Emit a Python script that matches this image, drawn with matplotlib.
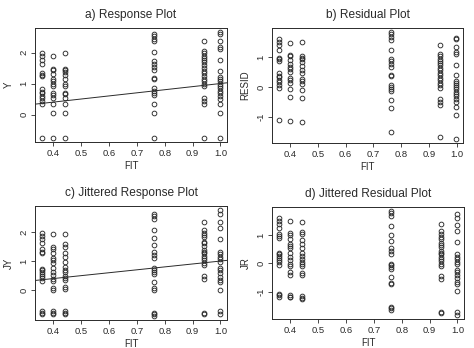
import numpy as np
import matplotlib
matplotlib.use("Agg")
import matplotlib.pyplot as plt

plt.rcParams['font.family'] = ['Liberation Sans', 'DejaVu Sans']

fits = [0.36, 0.398, 0.442, 0.762, 0.94, 0.998]

y_vals = [
    [1.97, 1.88, 1.77, 1.62, 1.34, 1.29, 1.23, 0.82, 0.74, 0.68, 0.60, 0.52, 0.43, 0.33, -0.75],
    [1.89, 1.48, 1.43, 1.30, 1.16, 1.08, 1.00, 0.91, 0.71, 0.62, 0.52, 0.33, 0.06, -0.75],
    [1.97, 1.48, 1.43, 1.37, 1.27, 1.16, 1.00, 0.91, 0.71, 0.65, 0.54, 0.33, 0.06, -0.75],
    [2.61, 2.53, 2.45, 2.36, 2.02, 1.72, 1.62, 1.54, 1.43, 1.18, 1.13, 0.84, 0.76, 0.70, 0.62, 0.33, 0.06, -0.75],
    [2.36, 2.04, 1.97, 1.89, 1.83, 1.75, 1.68, 1.59, 1.50, 1.41, 1.34, 1.25, 1.16, 1.07, 1.00, 0.91, 0.52, 0.43, 0.33, -0.75],
    [2.66, 2.61, 2.36, 2.18, 2.11, 1.75, 1.40, 1.21, 1.14, 1.07, 1.00, 0.92, 0.84, 0.76, 0.68, 0.60, 0.49, 0.33, 0.06, -0.75],
]

# jittered responses
jy_vals = [
    [1.97, 1.85, 1.75, 1.63, 1.40, 1.32, 1.27, 0.74, 0.68, 0.61, 0.57, 0.50, 0.42, 0.31, -0.71, -0.77, -0.82],
    [1.91, 1.49, 1.41, 1.27, 1.10, 1.02, 0.93, 0.76, 0.64, 0.53, 0.39, 0.31, 0.08, 0.00, -0.71, -0.77, -0.80],
    [1.91, 1.57, 1.49, 1.27, 1.13, 0.98, 0.81, 0.70, 0.61, 0.50, 0.42, 0.36, 0.12, 0.05, -0.71, -0.77, -0.82],
    [2.62, 2.53, 2.45, 2.08, 1.78, 1.55, 1.30, 1.21, 1.10, 0.76, 0.70, 0.64, 0.57, 0.27, 0.08, 0.02, -0.77, -0.82, -0.88],
    [2.34, 2.08, 1.97, 1.89, 1.81, 1.66, 1.61, 1.53, 1.38, 1.32, 1.27, 1.18, 1.10, 1.02, 0.93, 0.85, 0.50, 0.39, -0.77, -0.82],
    [2.74, 2.62, 2.34, 2.14, 1.74, 1.32, 1.23, 1.15, 1.06, 0.98, 0.76, 0.68, 0.59, 0.47, 0.36, 0.27, 0.02, -0.71, -0.82],
]

fit = np.concatenate([[f] * len(v) for f, v in zip(fits, y_vals)])
y = np.concatenate(y_vals)
resid = y - fit
jfit = np.concatenate([[f] * len(v) for f, v in zip(fits, jy_vals)])
jy = np.concatenate(jy_vals)
jr = jy - jfit

xticks = [0.4, 0.5, 0.6, 0.7, 0.8, 0.9, 1.0]
fg = '#2a2a2a'

fig = plt.figure(figsize=(4.74, 3.48), dpi=100)
boxes = [
    [0.074, 0.592, 0.405, 0.328],
    [0.574, 0.589, 0.403, 0.331],
    [0.074, 0.080, 0.405, 0.328],
    [0.574, 0.083, 0.405, 0.323],
]
panels = [
    (fit, y, 'Y', 'a) Response Plot', [0, 1, 2], True),
    (fit, resid, 'RESID', 'b) Residual Plot', [-1, 0, 1], False),
    (jfit, jy, 'JY', 'c) Jittered Response Plot', [0, 1, 2], True),
    (jfit, jr, 'JR', 'd) Jittered Residual Plot', [-1, 0, 1], False),
]

for box, (xs, ys, ylab, title, yt, idline) in zip(boxes, panels):
    ax = fig.add_axes(box)
    ax.plot(xs, ys, 'o', mfc='none', mec=fg, mew=0.65, ms=3.4, ls='none')
    lo, hi = xs.min(), xs.max()
    ext = (hi - lo) * 0.04
    ax.set_xlim(lo - ext, hi + ext)
    lo, hi = ys.min(), ys.max()
    ext = (hi - lo) * 0.04
    ax.set_ylim(lo - ext, hi + ext)
    if idline:
        ax.axline((0.5, 0.5), slope=1, color=fg, lw=0.7)
    ax.set_xticks(xticks)
    ax.set_xticklabels(['%.1f' % t for t in xticks])
    ax.set_yticks(yt)
    ax.set_yticklabels([str(t) for t in yt], rotation=90, va='center')
    ax.tick_params(direction='out', length=3, width=0.6, labelsize=6.8, colors=fg, pad=2)
    for s in ax.spines.values():
        s.set_linewidth(0.7)
        s.set_color(fg)
    ax.set_xlabel('FIT', fontsize=7, color=fg, labelpad=2)
    ax.set_ylabel(ylab, fontsize=7, color=fg, labelpad=4)
    ax.set_title(title, fontsize=8.6, color=fg, pad=7)

fig.savefig('out.png', dpi=100)
